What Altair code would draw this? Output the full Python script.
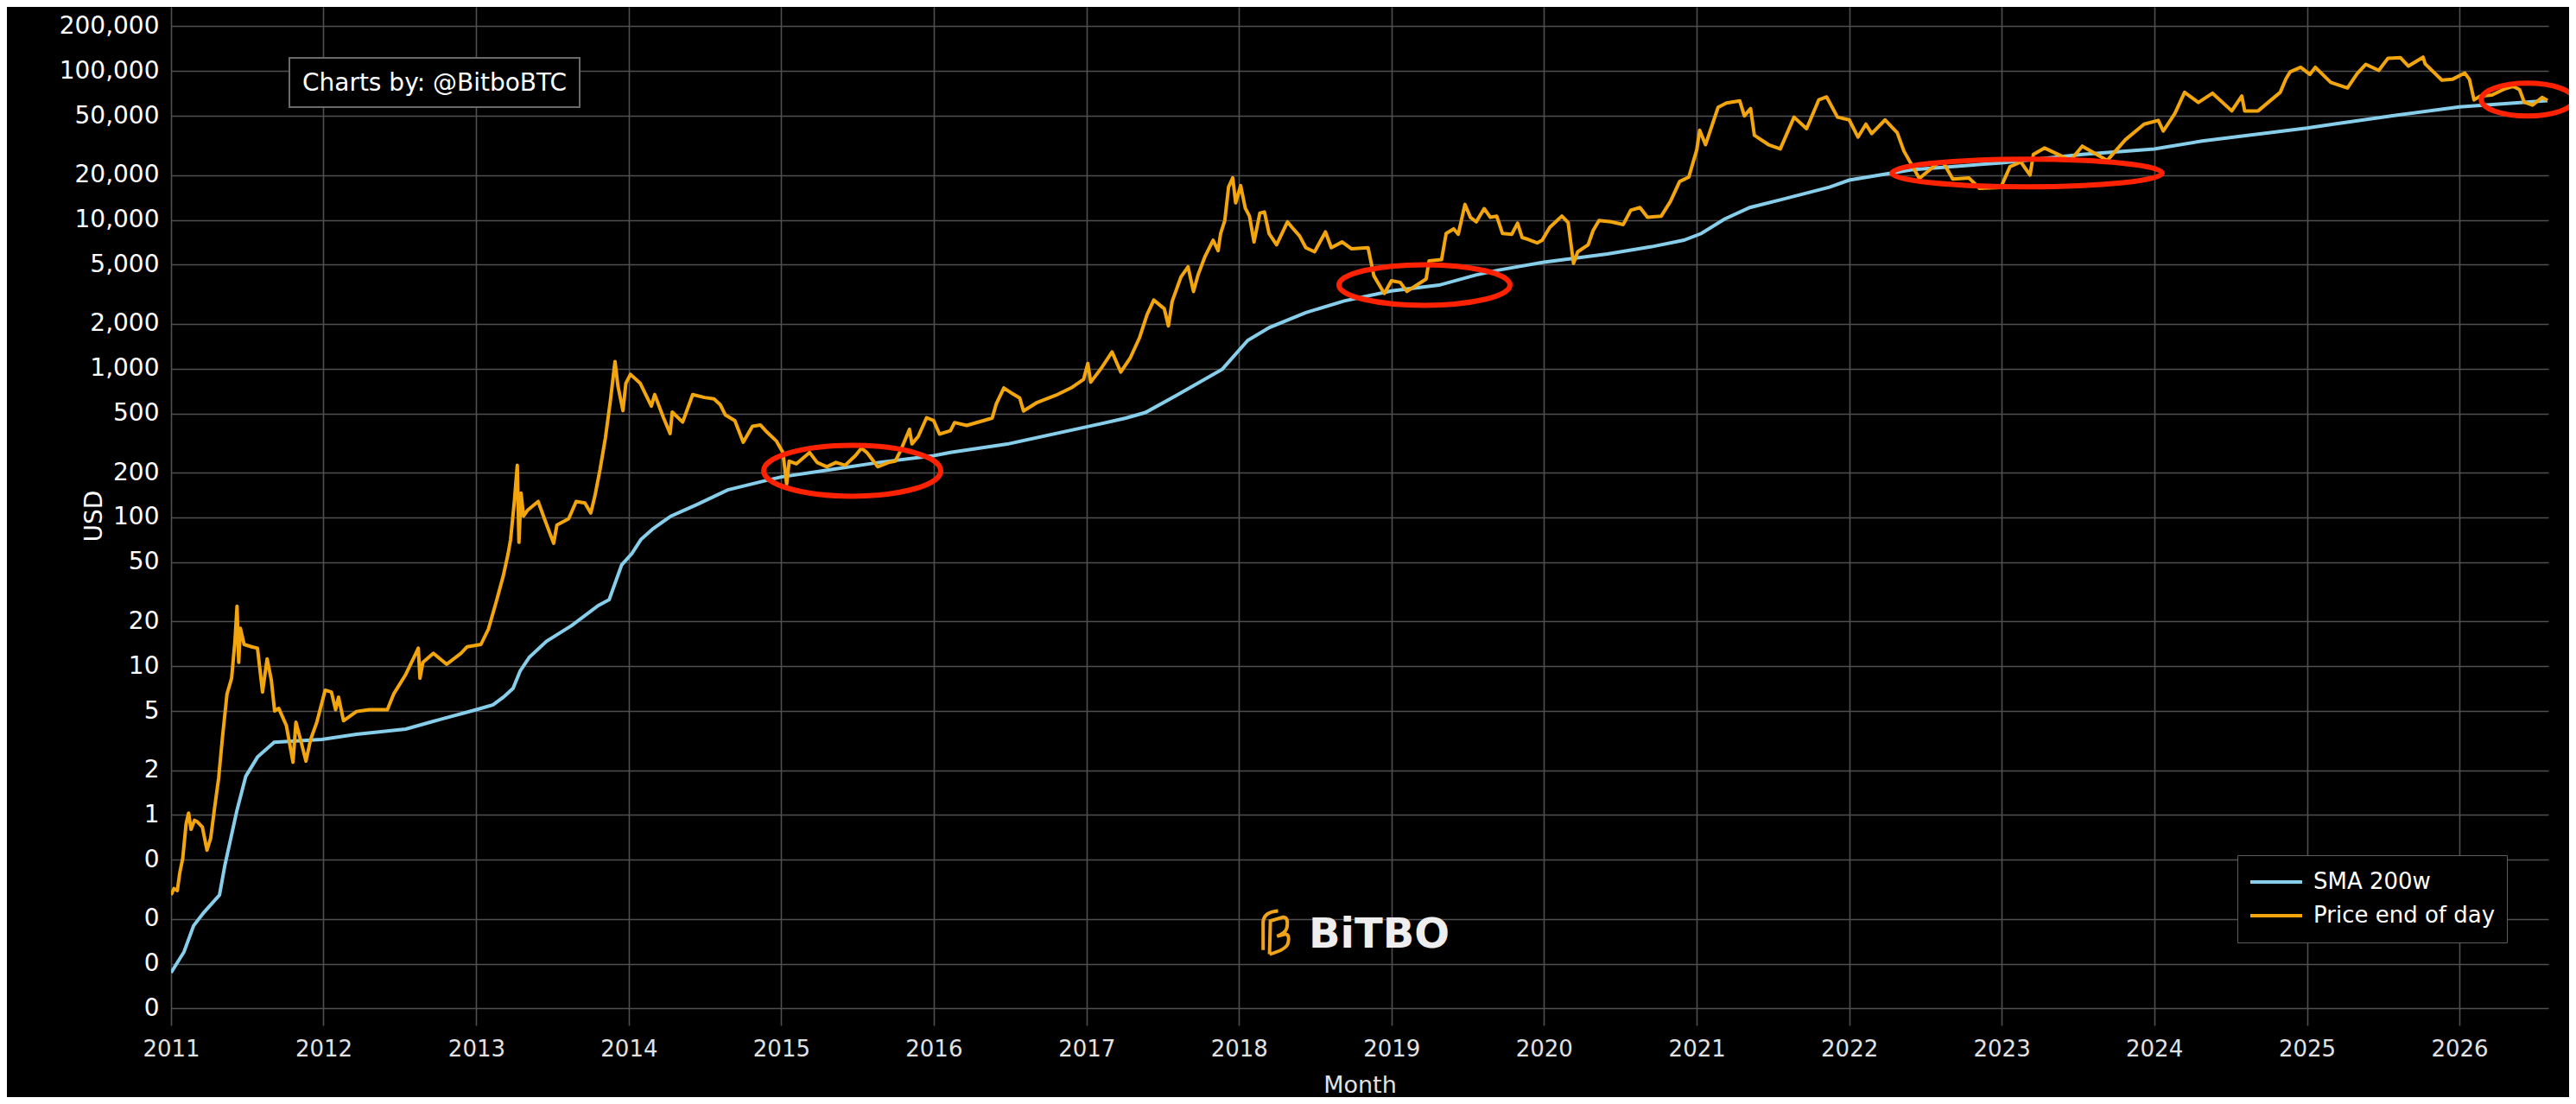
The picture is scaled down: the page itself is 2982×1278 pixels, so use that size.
import altair as alt
import pandas as pd

# ---------------- data ----------------
PRICE_DATES = [
    "2011-01-01", "2011-01-08", "2011-01-16", "2011-01-22", "2011-01-29", "2011-02-06", "2011-02-12", "2011-02-18",
    "2011-02-26", "2011-03-05", "2011-03-17", "2011-03-28", "2011-04-06", "2011-04-15", "2011-04-25", "2011-05-04",
    "2011-05-15", "2011-05-26", "2011-06-03", "2011-06-08", "2011-06-12", "2011-06-16", "2011-06-25", "2011-07-13",
    "2011-07-27", "2011-08-08", "2011-08-19", "2011-08-29", "2011-09-06", "2011-09-16", "2011-10-04", "2011-10-20",
    "2011-10-27", "2011-11-09", "2011-11-20", "2011-12-01", "2011-12-16",
    "2012-01-05", "2012-01-20", "2012-01-30", "2012-02-06", "2012-02-18", "2012-03-20", "2012-04-20", "2012-06-02",
    "2012-06-17", "2012-07-16", "2012-08-15", "2012-08-19", "2012-08-26", "2012-09-20", "2012-10-22", "2012-11-25",
    "2012-12-10",
    "2013-01-12", "2013-01-30", "2013-02-17", "2013-03-07", "2013-03-18", "2013-03-24", "2013-04-02", "2013-04-09",
    "2013-04-13", "2013-04-18", "2013-04-24", "2013-05-04", "2013-05-29", "2013-06-13", "2013-07-05", "2013-07-13",
    "2013-08-10", "2013-08-28", "2013-09-18", "2013-10-02", "2013-10-12", "2013-10-24", "2013-11-06", "2013-11-18",
    "2013-11-29", "2013-12-06", "2013-12-18", "2013-12-25",
    "2014-01-05", "2014-01-28", "2014-02-24", "2014-03-04", "2014-03-25", "2014-04-10", "2014-04-15", "2014-05-10",
    "2014-06-03", "2014-07-01", "2014-07-24", "2014-08-08", "2014-08-20", "2014-09-12", "2014-10-02", "2014-10-24",
    "2014-11-12", "2014-11-28", "2014-12-20",
    "2015-01-05", "2015-01-14", "2015-01-20", "2015-02-06", "2015-03-10", "2015-03-28", "2015-04-20", "2015-05-12",
    "2015-06-03", "2015-06-28", "2015-07-12", "2015-07-25", "2015-08-20", "2015-09-15", "2015-10-01", "2015-10-15",
    "2015-11-04", "2015-11-10", "2015-11-25", "2015-12-15",
    "2016-01-01", "2016-01-15", "2016-02-10", "2016-02-20", "2016-03-20", "2016-04-25", "2016-05-20", "2016-05-30",
    "2016-06-17", "2016-07-08", "2016-07-25", "2016-08-03", "2016-09-05", "2016-10-20", "2016-11-25", "2016-12-25",
    "2017-01-04", "2017-01-11", "2017-02-06", "2017-03-03", "2017-03-24", "2017-04-16", "2017-05-08", "2017-05-26",
    "2017-06-11", "2017-07-06", "2017-07-16", "2017-07-25", "2017-08-15", "2017-09-01", "2017-09-14", "2017-09-25",
    "2017-10-12", "2017-10-31", "2017-11-12", "2017-11-18", "2017-11-28", "2017-12-07", "2017-12-17", "2017-12-24",
    "2018-01-05", "2018-01-16", "2018-01-26", "2018-02-06", "2018-02-20", "2018-03-03", "2018-03-14", "2018-04-01",
    "2018-04-27", "2018-05-08", "2018-05-26", "2018-06-10", "2018-07-01", "2018-07-27", "2018-08-10", "2018-09-05",
    "2018-09-27", "2018-11-06", "2018-11-20", "2018-12-15",
    "2019-01-01", "2019-01-22", "2019-02-07", "2019-03-25", "2019-04-01", "2019-05-01", "2019-05-12", "2019-05-30",
    "2019-06-10", "2019-06-26", "2019-07-09", "2019-07-23", "2019-08-11", "2019-08-26", "2019-09-10", "2019-09-24",
    "2019-10-16", "2019-10-30", "2019-11-10", "2019-11-24", "2019-12-16", "2019-12-28",
    "2020-01-15", "2020-02-13", "2020-02-28", "2020-03-12", "2020-03-22", "2020-04-16", "2020-04-28", "2020-05-12",
    "2020-06-10", "2020-07-09", "2020-07-27", "2020-08-18", "2020-09-05", "2020-10-08", "2020-10-30", "2020-11-21",
    "2020-12-13", "2020-12-24",
    "2021-01-01", "2021-01-08", "2021-01-22", "2021-02-21", "2021-03-13", "2021-04-14", "2021-04-25", "2021-05-10",
    "2021-05-19", "2021-06-22", "2021-07-20", "2021-08-22", "2021-09-21", "2021-10-20", "2021-11-08", "2021-12-04",
    "2022-01-01", "2022-01-22", "2022-02-10", "2022-02-24", "2022-03-28", "2022-04-26", "2022-05-12", "2022-06-18",
    "2022-07-30", "2022-08-14", "2022-09-06", "2022-10-15", "2022-11-09", "2022-12-30",
    "2023-01-21", "2023-02-16", "2023-03-10", "2023-03-18", "2023-04-14", "2023-06-15", "2023-07-13", "2023-09-11",
    "2023-10-24", "2023-12-08",
    "2024-01-11", "2024-01-23", "2024-02-20", "2024-03-14", "2024-04-16", "2024-05-20", "2024-07-05", "2024-07-29",
    "2024-08-05", "2024-09-06", "2024-10-29", "2024-11-12", "2024-11-22", "2024-12-17",
    "2025-01-08", "2025-01-21", "2025-02-27", "2025-04-08", "2025-05-01", "2025-05-22", "2025-06-22", "2025-07-14",
    "2025-08-13", "2025-09-01", "2025-10-06", "2025-10-11", "2025-11-20", "2025-12-15",
    "2026-01-14", "2026-01-25", "2026-02-05", "2026-02-20", "2026-03-20", "2026-04-20", "2026-05-10", "2026-05-25",
    "2026-06-05", "2026-06-25", "2026-07-18", "2026-07-31",
]
PRICE_USD = [
    0.29, 0.32, 0.31, 0.41, 0.51, 0.87, 1.03, 0.80,
    0.92, 0.90, 0.83, 0.58, 0.70, 1.10, 1.77, 3.3,
    6.5, 8.3, 14.7, 25.3, 10.6, 18, 14, 13.5,
    13.2, 6.7, 11.2, 8.1, 5.0, 5.2, 4.0, 2.26,
    4.2, 3.05, 2.3, 3.2, 4.2,
    6.9, 6.7, 5.1, 6.2, 4.3, 4.96, 5.1, 5.1,
    6.5, 8.8, 13.2, 8.3, 10.6, 12.2, 10.3, 12.2,
    13.5,
    14.0, 17.8, 26.7, 41, 57, 71, 128, 224,
    68, 146, 102, 112, 128, 98, 67, 89,
    98, 128, 125, 107, 140, 209, 342, 611,
    1118, 764, 522, 798,
    915, 800, 560, 669, 468, 366, 511, 437,
    669, 640, 626, 572, 489, 447, 320, 410,
    418, 374, 327,
    273, 167, 239, 229, 273, 234, 219, 234,
    224, 261, 292, 273, 219, 234, 239, 286,
    391, 312, 350, 468,
    447, 363, 382, 434, 415, 444, 465, 581,
    742, 678, 634, 519, 593, 663, 742, 848,
    1083, 811, 1013, 1295, 948, 1185, 1618, 2312,
    2890, 2529, 1937, 2831, 4130, 4830, 3300, 4270,
    5700, 7300, 6200, 8100, 9900, 16600, 19200, 13000,
    17000, 12000, 10600, 7100, 11100, 11300, 8100, 6800,
    9700, 8900, 7800, 6500, 6100, 8300, 6500, 7100,
    6400, 6500, 4200, 3200,
    3900, 3800, 3300, 4000, 5300, 5400, 8100, 8700,
    8000, 12700, 10400, 9700, 11900, 10400, 10600, 8100,
    8000, 9500, 7600, 7400, 7000, 7300,
    8900, 10600, 9600, 5100, 6100, 6800, 8500, 9900,
    9700, 9300, 11600, 12100, 10400, 10600, 13300, 18100,
    19400, 24800,
    29500, 40000, 32000, 57000, 61000, 63000, 50000, 56000,
    37000, 32000, 30000, 49000, 41000, 64000, 67000, 49000,
    47000, 36000, 44000, 38000, 47000, 38500, 29000, 19000,
    23800, 24400, 18800, 19100, 16300, 16500,
    22800, 24500, 20000, 27500, 30400, 25100, 31300, 25100,
    34500, 44000,
    46600, 39500, 52000, 72000, 61500, 71000, 54000, 68000,
    54000, 54000, 72000, 89000, 99000, 106000,
    95000, 106000, 84000, 77000, 96000, 111000, 101000, 122000,
    123000, 108000, 124000, 112000, 87000, 88000,
    97000, 88000, 64000, 68000, 69000, 76000, 79000, 75000,
    62000, 59000, 66600, 63600,
]

SMA_DATES = [
    "2011-01-01", "2011-02-01", "2011-02-24", "2011-03-20", "2011-04-27", "2011-05-10", "2011-06-08", "2011-06-29",
    "2011-07-27", "2011-09-05", "2011-12-28", "2012-03-20", "2012-07-16", "2012-09-20", "2013-01-01", "2013-02-10",
    "2013-03-07", "2013-03-30", "2013-04-16", "2013-05-08", "2013-06-18", "2013-08-18", "2013-10-20", "2013-11-15",
    "2013-12-15", "2014-01-08", "2014-01-30", "2014-02-28", "2014-04-12", "2014-06-13", "2014-08-26", "2014-11-18",
    "2015-01-01", "2015-04-28", "2015-08-22", "2016-01-01", "2016-02-10", "2016-06-25", "2017-01-01", "2017-04-05",
    "2017-05-22", "2017-08-05", "2017-11-22", "2018-01-22", "2018-03-15", "2018-06-10", "2018-09-10", "2019-01-01",
    "2019-04-25", "2019-07-22", "2019-09-15", "2020-01-01", "2020-06-01", "2020-09-15", "2020-12-01", "2021-01-12",
    "2021-03-08", "2021-05-08", "2021-08-01", "2021-11-15", "2022-01-01", "2022-05-30", "2023-01-01", "2023-07-13",
    "2024-01-01", "2024-04-25", "2025-01-01", "2025-03-05", "2025-08-05", "2026-01-01", "2026-07-31",
]
SMA_USD = [
    0.087, 0.12, 0.18, 0.22, 0.29, 0.46, 1.08, 1.82,
    2.45, 3.08, 3.22, 3.49, 3.78, 4.26, 5.1, 5.5,
    6.2, 7.1, 9.3, 11.5, 14.7, 18.8, 25.6, 28,
    48, 57, 71, 84, 102, 122, 153, 175,
    187, 209, 234, 260, 273, 311, 406, 465,
    507, 663, 991, 1549, 1892, 2380, 2850, 3330,
    3640, 4260, 4600, 5200, 5900, 6600, 7300, 8100,
    10100, 12100, 13900, 16600, 18500, 21700, 24200, 27500,
    29900, 33900, 41400, 44000, 50600, 57500, 63200,
]
assert len(PRICE_DATES) == len(PRICE_USD)
assert len(SMA_DATES) == len(SMA_USD)

SERIES = ["SMA 200w", "Price end of day"]
COLORS = ["#87ceeb", "#f2a50c"]
Y_TICKS = [0.05, 0.1, 0.2, 0.5, 1, 2, 5, 10, 20, 50, 100, 200, 500, 1000,
           2000, 5000, 10000, 20000, 50000, 100000, 200000]
YEARS = list(range(2011, 2027))

# highlighted zones (red ellipses): centre date / price, size in px
ELLIPSE_DATES = ["2015-06-20", "2019-03-21", "2023-03-03", "2026-06-13"]
ELLIPSE_USD = [206, 3650, 20650, 64300]
ELLIPSE_W = [205, 198, 313, 107]
ELLIPSE_H = [59, 47, 32, 38]

# ---------------- layout ----------------
W, H = 2752, 1179
FONT = "DejaVu Sans"
GRID = "#4f4f4f"

price_df = pd.DataFrame({"date": PRICE_DATES, "value": PRICE_USD, "series": SERIES[1]})
sma_df = pd.DataFrame({"date": SMA_DATES, "value": SMA_USD, "series": SERIES[0]})

ell_paths = []
for w, h in zip(ELLIPSE_W, ELLIPSE_H):
    r = h / w
    ell_paths.append(f"M -1 0 A 1 {r:.4f} 0 1 0 1 0 A 1 {r:.4f} 0 1 0 -1 0 Z")
ell_df = pd.DataFrame({
    "date": ELLIPSE_DATES, "value": ELLIPSE_USD,
    "eid": [f"e{i}" for i in range(len(ELLIPSE_DATES))],
    "sz": [w * w for w in ELLIPSE_W],
})

x_enc = alt.X(
    "date:T", title="Month",
    scale=alt.Scale(type="utc",
                    domain=[alt.DateTime(year=2011, month=1, date=1, utc=True),
                            alt.DateTime(year=2026, month=8, date=2, utc=True)]),
    axis=alt.Axis(
        values=[alt.DateTime(year=y, month=1, date=1, utc=True) for y in YEARS],
        format="%Y", formatType="utc",
        grid=True, gridColor=GRID, gridWidth=1.6,
        ticks=False, tickSize=0, domain=False,
        labelFont=FONT, labelFontSize=26, labelColor="#e2e2e2",
        labelBaseline="alphabetic", labelPadding=35, labelFlush=False,
        titleFont=FONT, titleFontSize=27, titleFontWeight="normal", titleColor="#e2e2e2",
        titleBaseline="alphabetic", titleY=77,
    ),
)
y_enc = alt.Y(
    "value:Q", title="USD",
    scale=alt.Scale(type="log", domain=[0.0385, 270000], nice=False),
    axis=alt.Axis(
        values=Y_TICKS,
        labelExpr="datum.value < 1 ? '0' : format(datum.value, ',')",
        grid=True, gridColor=GRID, gridWidth=1.6,
        ticks=False, tickSize=0, domain=False,
        labelFont=FONT, labelFontSize=28, labelColor="#ffffff",
        labelPadding=14, labelBaseline="middle",
        titleFont=FONT, titleFontSize=28, titleFontWeight="normal", titleColor="#ffffff",
        titleAngle=270, titleX=-89, titleY=589, titleAlign="center", titleBaseline="middle",
    ),
)
color_enc = alt.Color(
    "series:N",
    scale=alt.Scale(domain=SERIES, range=COLORS),
    legend=alt.Legend(
        title=None, orient="none", legendX=2392, legendY=982,
        symbolType="stroke", symbolSize=3600, symbolStrokeWidth=4,
        clipHeight=36, rowPadding=3, padding=13,
        labelFont=FONT, labelFontSize=26, labelColor="#ffffff", labelOffset=11, labelLimit=400,
        fillColor="#000000", strokeColor="#5c5c5c",
    ),
)

sma_line = alt.Chart(sma_df).mark_line(strokeWidth=4, clip=True).encode(
    x=x_enc, y=y_enc, color=color_enc)
price_line = alt.Chart(price_df).mark_line(strokeWidth=4, clip=True, strokeJoin="round").encode(
    x=x_enc, y=y_enc, color=color_enc)

ellipses = alt.Chart(ell_df).mark_point(
    filled=False, stroke="#ff2200", strokeWidth=6, opacity=1, clip=False
).encode(
    x=x_enc, y=y_enc,
    shape=alt.Shape("eid:N", scale=alt.Scale(domain=list(ell_df["eid"]), range=ell_paths), legend=None),
    size=alt.Size("sz:Q", scale=None, legend=None),
)

# watermark box "Charts by"
wm_box = alt.Chart(pd.DataFrame({"k": [0]})).mark_rect(
    fill="#000000", stroke="#6a6a6a", strokeWidth=2
).encode(x=alt.value(137), x2=alt.value(473), y=alt.value(59), y2=alt.value(116))
wm_text = alt.Chart(pd.DataFrame({"t": ["Charts by: @BitboBTC"]})).mark_text(
    font=FONT, fontSize=28, color="#ffffff", align="center", baseline="middle"
).encode(x=alt.value(305), y=alt.value(89), text="t:N")

# Bitbo logo
ICON = ("M -0.58 0.77 L -0.58 -0.5 Q -0.55 -0.95 0.1 -1.0 "
        "M -0.29 0.96 L -0.25 -0.55 L 0.35 -0.72 Q 0.58 -0.7 0.5 -0.25 Q 0.45 0 0.05 0.15 "
        "L 0.45 0.05 Q 0.64 0.1 0.55 0.45 Q 0.5 0.75 -0.29 0.96")
logo_icon = alt.Chart(pd.DataFrame({"k": [0]})).mark_point(
    shape=ICON, size=2601, filled=False, stroke="#f0a21a", strokeWidth=4, opacity=1
).encode(x=alt.value(1279), y=alt.value(1072))
logo_text = alt.Chart(pd.DataFrame({"t": ["BiTBO"]})).mark_text(
    font=FONT, fontSize=48, fontWeight="bold", color="#eeeeee", align="left", baseline="alphabetic"
).encode(x=alt.value(1317), y=alt.value(1089), text="t:N")

# total drawing 2966 x 1262 so that, with the 8px page margin, the page is exactly 2982 x 1278
chart = alt.layer(
    sma_line, price_line, ellipses, wm_box, wm_text, logo_icon, logo_text
).properties(
    width=W, height=H,
    autosize=alt.AutoSizeParams(type="none"),
    padding={"left": 190, "top": 0, "right": 24, "bottom": 83},
).configure(
    background="#000000", font=FONT,
).configure_view(
    stroke=None, fill="#000000",
)

chart.save("out.html", embed_options={"renderer": "svg", "actions": False})
